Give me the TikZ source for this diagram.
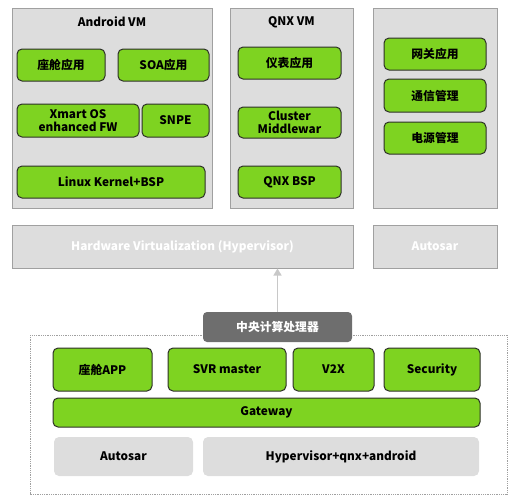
\documentclass[tikz,border=0pt]{standalone}
\usepackage{fontspec}
\setmainfont{Noto Sans CJK SC}
\usepackage{tikz}
\usetikzlibrary{arrows.meta, positioning}

\definecolor{appgreen}{RGB}{126,211,33}
\definecolor{boxgray}{RGB}{221,221,221}
\definecolor{edgegray}{RGB}{160,160,160}
\definecolor{cpugray}{RGB}{110,110,110}

\begin{document}
\begin{tikzpicture}[x=1pt,y=1pt,yscale=-1,xscale=1,
		vmbox/.style={draw=edgegray, fill=boxgray, line width=1pt, minimum width=#1, minimum height=200, inner sep=0pt},
		appbox/.style={draw={rgb,255:red,45;green,48;blue,40}, fill=appgreen, rounded corners=5pt, line width=1pt, align=center, font=\bfseries\fontsize{11.8}{12.5}\selectfont, inner sep=0pt},
		hvbox/.style={draw=edgegray, fill=boxgray, line width=1pt, text=white, font=\bfseries\fontsize{11.8}{12.5}\selectfont, inner sep=0pt},
		basebox/.style={fill=boxgray, rounded corners=5pt, font=\bfseries\fontsize{11.8}{12.5}\selectfont, inner sep=0pt},
		title/.style={font=\bfseries\fontsize{11.8}{12.5}\selectfont, inner sep=0.75pt}]
		\useasboundingbox (0,0) rectangle (513,496);

		%Shape: Rectangle [Android VM]
		\node [vmbox=200] (android) at (112,108) {};
		%Shape: Rectangle [QNX VM]
		\node [vmbox=123] (qnx) at (291.5,108) {};
		%Shape: Rectangle [right VM]
		\node [vmbox=124] (mcu) at (435,108) {};

		% Text Node
		\node [title] (androidtitle) at (112,22) {Android VM};
		% Text Node
		\node [title] (qnxtitle) at (291.5,22) {QNX VM};

		%Rounded Rect [Android apps]
		\node [appbox, minimum width=88, minimum height=32] (cockpit) at (61,65) {座舱应用};
		\node [appbox, minimum width=91, minimum height=32] (soa) at (163.5,65) {SOA应用};
		\node [appbox, minimum width=122, minimum height=33] (xmart) at (78,120.5) {Xmart OS\\enhanced FW};
		\node [appbox, minimum width=67, minimum height=33] (snpe) at (175.5,120.5) {SNPE};
		\node [appbox, minimum width=188, minimum height=32] (linux) at (111,182) {Linux Kernel+BSP};

		%Rounded Rect [QNX apps]
		\node [appbox, minimum width=103, minimum height=32] (cluster) at (289.5,63) {仪表应用};
		\node [appbox, minimum width=103, minimum height=31] (middle) at (289.5,122.5) {Cluster\\Middlewar};
		\node [appbox, minimum width=103, minimum height=32] (qnxbsp) at (289.5,182) {QNX BSP};

		%Rounded Rect [right apps]
		\node [appbox, minimum width=102, minimum height=32] (gwapp) at (435,54) {网关应用};
		\node [appbox, minimum width=102, minimum height=33] (comm) at (435,95.5) {通信管理};
		\node [appbox, minimum width=102, minimum height=32] (power) at (435,138) {电源管理};

		%Shape: Rectangle [hypervisor layer]
		\node [hvbox, minimum width=341, minimum height=43] (hv) at (182.5,246.5) {Hardware Virtualization (Hypervisor)};
		\node [hvbox, minimum width=124, minimum height=43] (autosartop) at (435,246.5) {Autosar};

		%Shape: Rectangle [dotted frame]
		\draw [edgegray, line width=0.8pt, dash pattern={on 0.8pt off 1pt}] (30,335) rectangle (507,494);

		%Rounded Rect [central processor]
		\node [fill=cpugray, rounded corners=4pt, text=white, font=\bfseries\fontsize{11.8}{12.5}\selectfont, minimum width=149, minimum height=30, inner sep=0pt] (cpu) at (277.5,327) {中央计算处理器};

		%Straight Lines [cpu to hypervisor]
		\draw [draw={rgb,255:red,200;green,200;blue,200}, line width=1.5pt, -{Triangle[length=7pt,width=8pt]}] (cpu.north) -- (cpu.north |- hv.south);

		%Rounded Rect [bottom apps]
		\node [appbox, minimum width=99, minimum height=43] (cockpitapp) at (102.5,369.5) {座舱APP};
		\node [appbox, minimum width=118, minimum height=43] (svr) at (227,369.5) {SVR master};
		\node [appbox, minimum width=81, minimum height=43] (v2x) at (333.5,369.5) {V2X};
		\node [appbox, minimum width=96, minimum height=43] (security) at (432,369.5) {Security};
		\node [appbox, minimum width=427, minimum height=29] (gateway) at (266.5,412.5) {Gateway};

		%Rounded Rect [base layer]
		\node [basebox, minimum width=139, minimum height=39] (autosar) at (123.5,456.5) {Autosar};
		\node [basebox, minimum width=276, minimum height=39] (hyp) at (341,456.5) {Hypervisor+qnx+android};

\end{tikzpicture}
\end{document}
